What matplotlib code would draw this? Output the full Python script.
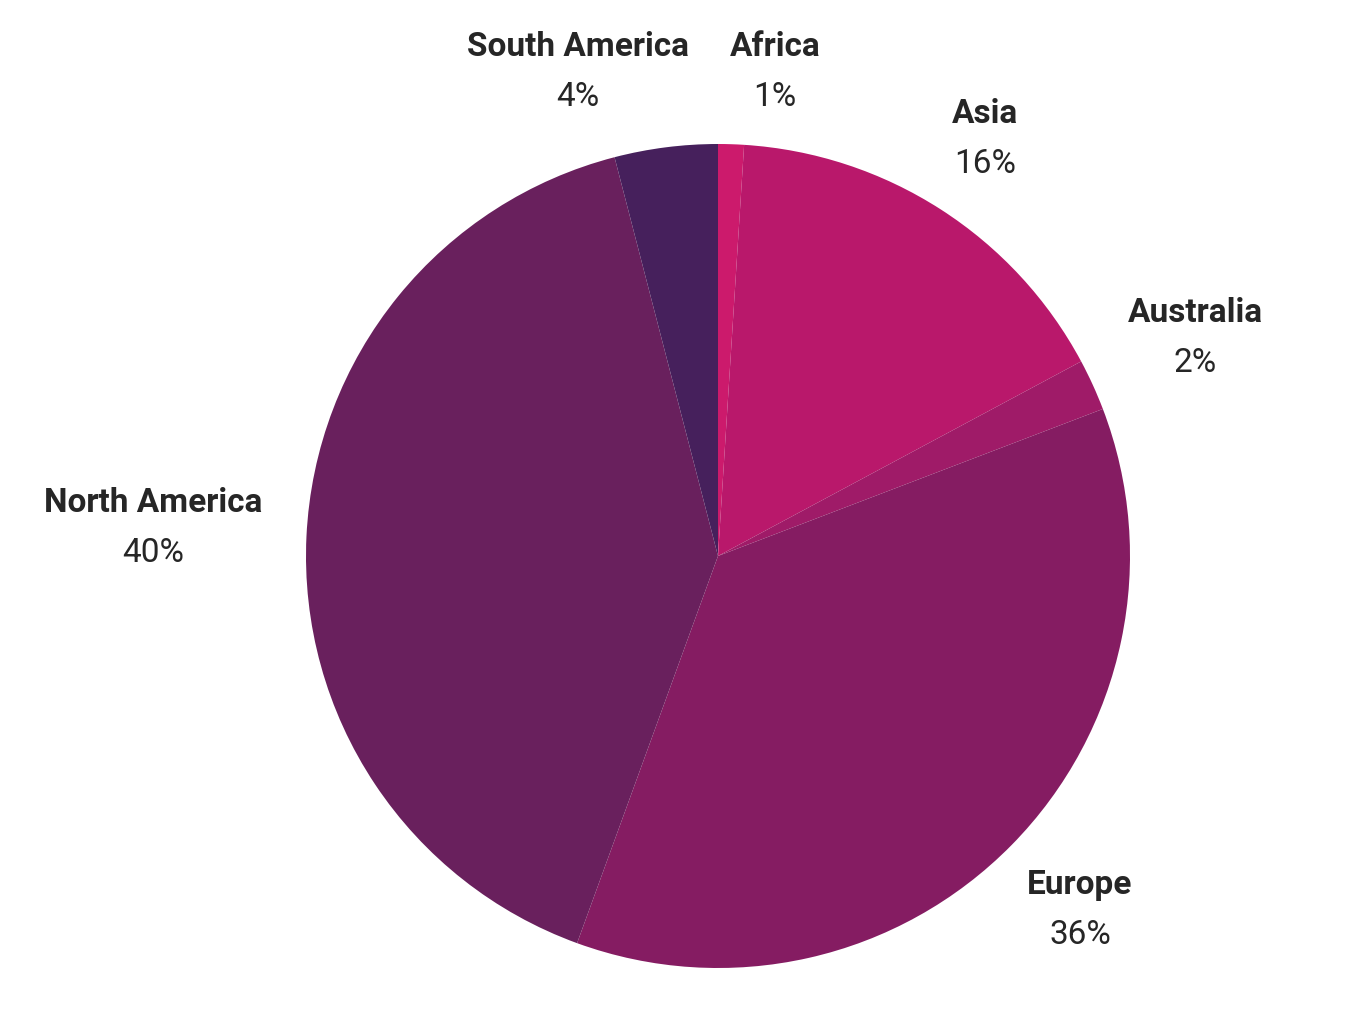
import matplotlib
matplotlib.use("Agg")
import matplotlib.pyplot as plt

regions = ["Africa", "Asia", "Australia", "Europe", "North America", "South America"]
shares = [1, 16, 2, 36, 40, 4]
colors = ["#cc1a6c", "#b9186b", "#9f1b68", "#851c62", "#69205d", "#46205c"]
# label anchor positions (pixel coords, origin top-left)
label_pos = [(775, 72), (985, 139), (1195, 338), (1080, 910), (153, 528), (578, 72)]

W, H = 1367, 1025
fig = plt.figure(figsize=(W / 100, H / 100), dpi=100)
ax = fig.add_axes([0, 0, 1, 1])

ax.pie(shares, colors=colors, startangle=90, counterclock=False,
       center=(718, H - 556), radius=412, wedgeprops=dict(linewidth=0),
       frame=True)
ax.set_xlim(0, W)
ax.set_ylim(0, H)
ax.set_aspect("equal")
ax.axis("off")

for name, val, (x, y) in zip(regions, shares, label_pos):
    ax.text(x, H - y + 25, name, ha="center", va="center", fontsize=24,
            fontweight="bold", family="Roboto", color="#262626")
    ax.text(x, H - y - 25, f"{val}%", ha="center", va="center", fontsize=24,
            family="Roboto", color="#262626")

fig.savefig("out.png", dpi=100, facecolor="white")
